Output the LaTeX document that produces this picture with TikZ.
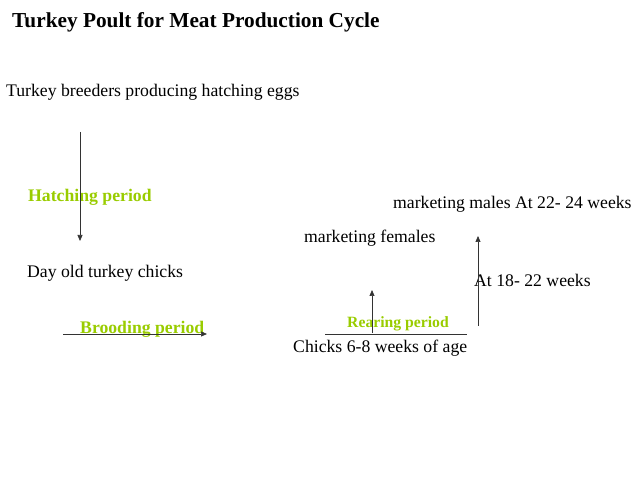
\documentclass[tikz,border=0pt]{standalone}
\usepackage{fontspec}
\setmainfont{Liberation Serif}
\usetikzlibrary{arrows.meta}
\definecolor{lgreen}{HTML}{99CC00}
\begin{document}
\begin{tikzpicture}[x=1pt,y=-1pt,
  txt/.style={anchor=west,inner sep=0pt,font=\fontsize{17.7}{20}\selectfont},
  lab/.style={anchor=west,inner sep=0pt,text=lgreen,font=\bfseries\fontsize{17.7}{20}\selectfont},
  arr/.style={draw=black!80,line width=0.7pt,-{Triangle[length=6pt,width=5pt]}},
  ln/.style={draw=black!80,line width=0.7pt}]
\useasboundingbox (0,0) rectangle (638,478);
\node[anchor=west,inner sep=0pt,font=\bfseries\fontsize{21.3}{24}\selectfont] (title) at (12,22) {Turkey Poult for Meat Production Cycle};
\node[txt] (breed) at (6,92) {Turkey breeders producing hatching eggs};
\node[lab] (hatch) at (28,197) {Hatching period};
\node[txt] (males) at (393,204) {marketing males At 22- 24 weeks};
\node[txt] (fem) at (304,238) {marketing females};
\node[txt] (day) at (27,273) {Day old turkey chicks};
\node[txt] (at18) at (474,280) {At 18- 22 weeks};
\node[lab] (brood) at (80,329) {Brooding period};
\node[lab,font=\bfseries\fontsize{15.7}{18}\selectfont] (rear) at (347,324) {Rearing period};
\node[txt] (chicks) at (293,348) {Chicks 6-8 weeks of age};
\coordinate (h1) at (80,132); \coordinate (h2) at (80,241);
\coordinate (b1) at (63,334); \coordinate (b2) at (207,334);
\coordinate (r1) at (325,334); \coordinate (r2) at (467,334);
\coordinate (u1) at (372,333); \coordinate (u2) at (372,290);
\coordinate (m1) at (478,326); \coordinate (m2) at (478,236);
\draw[arr] (h1) -- (h2);
\draw[arr] (b1) -- (b2);
\draw[ln] (r1) -- (r2);
\draw[arr] (u1) -- (u2);
\draw[arr] (m1) -- (m2);
\end{tikzpicture}
\end{document}
